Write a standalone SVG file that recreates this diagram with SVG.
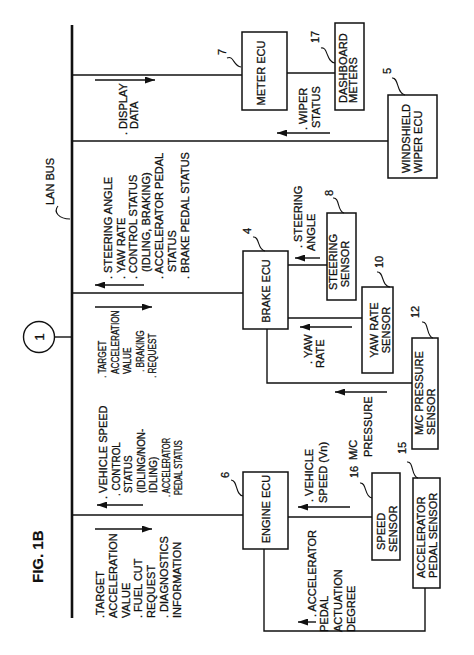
<svg xmlns="http://www.w3.org/2000/svg" width="474" height="655" viewBox="0 0 474 655">
<style>
text{font-family:"Liberation Sans",Arial,Helvetica,sans-serif;font-size:11px;fill:#111;stroke:#111;stroke-width:0.3}
.ln{stroke:#111;stroke-width:1.4;fill:none}
.bus{stroke:#111;stroke-width:2.6;fill:none}
.bx{stroke:#111;stroke-width:1.5;fill:#fff}
.ar{stroke:#111;stroke-width:1.4;fill:none;marker-end:url(#ah)}
.ld{stroke:#111;stroke-width:1.1;fill:none}
.m{text-anchor:middle}
.fig{font-size:15px;font-weight:bold;stroke-width:0.2}
</style>
<defs>
<marker id="ah" markerUnits="userSpaceOnUse" markerWidth="10" markerHeight="7" refX="10" refY="3.5" orient="auto" viewBox="0 0 10 7"><path d="M0,0L10,3.5L0,7z" fill="#111"/></marker>
</defs>
<rect width="474" height="655" fill="#fff"/>

<g id="title">
<text class="fig" transform="translate(43,583) rotate(-90)">FIG. 1B</text>
</g>

<g id="lan-bus">
<path class="bus" d="M72,25V618"/>
<text transform="translate(54,205) rotate(-90)">LAN BUS</text>
<path class="ld" d="M58,206C53,212 59,219 70,219"/>
</g>

<g id="ref-1">
<circle cx="39" cy="337" r="15.5" fill="#fff" stroke="#111" stroke-width="1.4"/>
<text class="m" style="font-size:13px" transform="translate(44,337) rotate(-90)">1</text>
</g>

<g id="connectors">
<path class="ln" d="M55,337H72"/>
<path class="ln" d="M72,75H242"/>
<path class="ln" d="M287,73H335"/>
<path class="ln" d="M72,141H388"/>
<path class="ln" d="M72,293H243"/>
<path class="ln" d="M288,265H327"/>
<path class="ln" d="M288,318H362"/>
<path class="ln" d="M267,329V383H412"/>
<path class="ln" d="M72,515H243"/>
<path class="ln" d="M288,517H372"/>
<path class="ln" d="M264,549V631H425V588"/>
<path class="ar" d="M95,80H155"/>
<path class="ar" d="M144,285H95"/>
<path class="ar" d="M95,307H152"/>
<path class="ar" d="M143,505H97"/>
<path class="ar" d="M95,529H152"/>
<path class="ar" d="M330,133H277"/>
<path class="ar" d="M320,258H295"/>
<path class="ar" d="M352,327H300"/>
<path class="ar" d="M387,392H335"/>
<path class="ar" d="M350,507H298"/>
<path class="ar" d="M316,622H298"/>
</g>

<g id="labels">
<text transform="translate(127,135) rotate(-90)">. DISPLAY</text>
<text transform="translate(138,129) rotate(-90)">DATA</text>

<text transform="translate(112,279) rotate(-90)">. STEERING ANGLE</text>
<text transform="translate(124.5,279) rotate(-90)">. YAW RATE</text>
<text transform="translate(137,279) rotate(-90)">. CONTROL STATUS</text>
<text transform="translate(150,272) rotate(-90)">(IDLING, BRAKING)</text>
<text transform="translate(163,279) rotate(-90)">. ACCELERATOR PEDAL</text>
<text transform="translate(176,272) rotate(-90)">STATUS</text>
<text transform="translate(189,279) rotate(-90)">. BRAKE PEDAL STATUS</text>

<text transform="translate(106,378) rotate(-90) scale(0.75,1)">. TARGET</text>
<text transform="translate(118.5,374) rotate(-90) scale(0.75,1)">ACCELERATION</text>
<text transform="translate(131,374) rotate(-90) scale(0.75,1)">VALUE</text>
<text transform="translate(143.5,372) rotate(-90) scale(0.75,1)">. BRAKING</text>
<text transform="translate(156,378) rotate(-90) scale(0.75,1)">. REQUEST</text>

<text transform="translate(107,499) rotate(-90)">. VEHICLE SPEED</text>
<text transform="translate(119.5,496) rotate(-90) scale(0.9,1)">. CONTROL</text>
<text transform="translate(132,493) rotate(-90) scale(0.9,1)">STATUS</text>
<text transform="translate(144.5,493) rotate(-90) scale(0.9,1)">(IDLING/NON-</text>
<text transform="translate(157,493) rotate(-90) scale(0.9,1)">IDLING)</text>
<text transform="translate(169.5,497) rotate(-90) scale(0.68,1)">. ACCELERATOR</text>
<text transform="translate(182,495) rotate(-90) scale(0.68,1)">PEDAL STATUS</text>

<text transform="translate(103.5,618) rotate(-90)">.TARGET</text>
<text transform="translate(116.5,618) rotate(-90)">ACCELERATION</text>
<text transform="translate(129.5,618) rotate(-90)">VALUE</text>
<text transform="translate(142,618) rotate(-90)">. FUEL CUT</text>
<text transform="translate(155,618) rotate(-90)">REQUEST</text>
<text transform="translate(168,618) rotate(-90)">. DIAGNOSTICS</text>
<text transform="translate(181,618) rotate(-90)">INFORMATION</text>

<text transform="translate(307,130) rotate(-90)">. WIPER</text>
<text transform="translate(320,128) rotate(-90)">STATUS</text>

<text transform="translate(302,248) rotate(-90)">. STEERING</text>
<text transform="translate(315,251) rotate(-90)">ANGLE</text>

<text transform="translate(312,364) rotate(-90)">. YAW</text>
<text transform="translate(324,368) rotate(-90)">RATE</text>

<text transform="translate(357,460) rotate(-90)">M/C</text>
<text transform="translate(372,457) rotate(-90)">PRESSURE</text>

<text transform="translate(313,502) rotate(-90)">. VEHICLE</text>
<text transform="translate(327,503) rotate(-90)">SPEED (Vn)</text>

<text transform="translate(316,617) rotate(-90)">. ACCELERATOR</text>
<text transform="translate(328,632) rotate(-90)">PEDAL</text>
<text transform="translate(342,632) rotate(-90)">ACTUATION</text>
<text transform="translate(355,632) rotate(-90)">DEGREE</text>
</g>

<g id="meter-ecu">
<rect class="bx" x="242" y="32" width="45" height="78"/>
<text class="m" transform="translate(265,73) rotate(-90)">METER ECU</text>
<text transform="translate(226,55) rotate(-90)">7</text>
<path class="ld" d="M227,58C234,55 233,66 241,67"/>
</g>

<g id="dashboard-meters">
<rect class="bx" x="335" y="23" width="29" height="87"/>
<text transform="translate(347,103) rotate(-90)">DASHBOARD</text>
<text transform="translate(357,103) rotate(-90)">METERS</text>
<text transform="translate(319,43) rotate(-90)">17</text>
<path class="ld" d="M321,48C328,46 326,62 335,63"/>
</g>

<g id="windshield-wiper-ecu">
<rect class="bx" x="388" y="95" width="49" height="83"/>
<text transform="translate(410,173) rotate(-90)">WINDSHIELD</text>
<text transform="translate(422,173) rotate(-90)">WIPER ECU</text>
<text transform="translate(391,74) rotate(-90)">5</text>
<path class="ld" d="M392,78C399,77 396,93 405,95"/>
</g>

<g id="brake-ecu">
<rect class="bx" x="243" y="251" width="45" height="78"/>
<text class="m" transform="translate(270,291) rotate(-90)">BRAKE ECU</text>
<text transform="translate(251,234) rotate(-90)">4</text>
<path class="ld" d="M253,237C260,236 257,250 265,251"/>
</g>

<g id="steering-sensor">
<rect class="bx" x="327" y="213" width="29" height="87"/>
<text class="m" transform="translate(337,262) rotate(-90)">STEERING</text>
<text class="m" transform="translate(349,264) rotate(-90)">SENSOR</text>
<text transform="translate(333,196) rotate(-90)">8</text>
<path class="ld" d="M333,198C340,197 337,212 344,213"/>
</g>

<g id="yaw-rate-sensor">
<rect class="bx" x="362" y="287" width="31" height="86"/>
<text class="m" transform="translate(378,330) rotate(-90)">YAW RATE</text>
<text class="m" transform="translate(390,330) rotate(-90)">SENSOR</text>
<text transform="translate(383,268) rotate(-90)">10</text>
<path class="ld" d="M377,272C384,271 381,286 390,287"/>
</g>

<g id="mc-pressure-sensor">
<rect class="bx" x="412" y="338" width="26" height="111"/>
<text transform="translate(423,435) rotate(-90)">M/C PRESSURE</text>
<text transform="translate(435,435) rotate(-90)">SENSOR</text>
<text transform="translate(419,318) rotate(-90)">12</text>
<path class="ld" d="M422,322C429,321 426,337 433,338"/>
</g>

<g id="engine-ecu">
<rect class="bx" x="243" y="472" width="45" height="77"/>
<text class="m" transform="translate(270,509) rotate(-90)">ENGINE ECU</text>
<text transform="translate(229,478) rotate(-90)">6</text>
<path class="ld" d="M231,480C238,480 235,495 243,496"/>
</g>

<g id="speed-sensor">
<rect class="bx" x="372" y="473" width="28" height="87"/>
<text transform="translate(385,550) rotate(-90)">SPEED</text>
<text transform="translate(397,552) rotate(-90)">SENSOR</text>
<text transform="translate(358,478) rotate(-90)">16</text>
<path class="ld" d="M360,483C367,482 364,497 372,498"/>
</g>

<g id="accelerator-pedal-sensor">
<rect class="bx" x="413" y="478" width="27" height="110"/>
<text transform="translate(425,578) rotate(-90)">ACCELERATOR</text>
<text transform="translate(437,578) rotate(-90)">PEDAL SENSOR</text>
<text transform="translate(406,454) rotate(-90)">15</text>
<path class="ld" d="M407,462C414,461 411,477 418,478"/>
</g>
</svg>
